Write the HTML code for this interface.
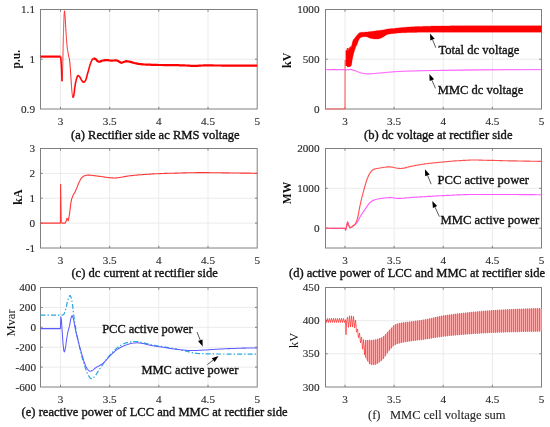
<!DOCTYPE html>
<html><head><meta charset="utf-8"><title>Simulation results</title>
<style>
html,body{margin:0;padding:0;background:#fff}
svg{display:block}
text{font-family:"Liberation Serif","Times New Roman",serif}
.t{font-size:11.2px;fill:#2e2e2e;stroke:#2e2e2e;stroke-width:0.15px}
.c{fill:#111}
.cap{font-size:12.5px;stroke:#111;stroke-width:0.35px}
</style></head><body>
<svg width="550" height="427" viewBox="0 0 550 427">
<rect width="550" height="427" fill="#fff"/>
<g><line x1="60.5" y1="9.5" x2="60.5" y2="109.0" stroke="#ebebeb"/><line x1="109.7" y1="9.5" x2="109.7" y2="109.0" stroke="#ebebeb"/><line x1="158.8" y1="9.5" x2="158.8" y2="109.0" stroke="#ebebeb"/><line x1="208.0" y1="9.5" x2="208.0" y2="109.0" stroke="#ebebeb"/><line x1="40.5" y1="59.2" x2="257.2" y2="59.2" stroke="#ebebeb"/><rect x="40.5" y="9.5" width="216.7" height="99.5" fill="none" stroke="#808080" stroke-width="1"/><line x1="60.5" y1="109.0" x2="60.5" y2="106.8" stroke="#808080"/><line x1="60.5" y1="9.5" x2="60.5" y2="11.7" stroke="#808080"/><line x1="109.7" y1="109.0" x2="109.7" y2="106.8" stroke="#808080"/><line x1="109.7" y1="9.5" x2="109.7" y2="11.7" stroke="#808080"/><line x1="158.8" y1="109.0" x2="158.8" y2="106.8" stroke="#808080"/><line x1="158.8" y1="9.5" x2="158.8" y2="11.7" stroke="#808080"/><line x1="208.0" y1="109.0" x2="208.0" y2="106.8" stroke="#808080"/><line x1="208.0" y1="9.5" x2="208.0" y2="11.7" stroke="#808080"/><line x1="40.5" y1="59.2" x2="42.7" y2="59.2" stroke="#808080"/><line x1="257.2" y1="59.2" x2="255.0" y2="59.2" stroke="#808080"/>
<polyline points="40.5,56.6 60.6,56.6" fill="none" stroke="#ff0000" stroke-width="2.2"/>
<polyline points="60.6,56.6 60.7,57.6 60.9,58.6 61.0,59.6 61.0,60.6 61.1,61.6 61.2,62.6 61.3,63.6 61.3,64.6 61.4,65.6 61.4,66.6 61.5,67.6 61.5,68.6 61.6,69.6 61.6,70.7 61.7,71.8 61.7,73.1 61.8,74.4 61.8,75.8 61.9,77.0 61.9,78.2 61.9,79.3 62.0,80.2 62.0,80.8 62.1,81.1 62.1,81.2" fill="none" stroke="#ff0808" stroke-width="1.6" stroke-linejoin="round"/>
<polyline points="62.1,81.2 62.2,80.8 62.2,80.2 62.3,79.4 62.3,78.3 62.4,77.2 62.4,75.9 62.5,74.5 62.5,73.2 62.5,71.9 62.6,70.8 62.6,69.7 62.6,68.7 62.7,67.7 62.7,66.7 62.7,65.7 62.8,64.7 62.8,63.7 62.8,62.7 62.8,61.7 62.8,60.7 62.9,59.7 62.9,58.7 62.9,57.7 62.9,56.7 63.0,55.6 63.0,54.6 63.0,53.6 63.0,52.6 63.0,51.6 63.1,50.6 63.1,49.6 63.1,48.6 63.1,47.6 63.1,46.6 63.2,45.6 63.2,44.6 63.2,43.6 63.2,42.6 63.3,41.6 63.3,40.6 63.3,39.6 63.3,38.6 63.4,37.6 63.4,36.6 63.4,35.6 63.4,34.6 63.5,33.6 63.5,32.6 63.5,31.5 63.6,30.5 63.6,29.5 63.6,28.5 63.6,27.5 63.7,26.5 63.7,25.5 63.7,24.5 63.8,23.5 63.8,22.5 63.8,21.5 63.9,20.5 63.9,19.5 64.0,18.5 64.0,17.5 64.1,16.2 64.1,14.9 64.2,13.6 64.3,12.4 64.4,11.5 64.4,10.9 64.5,10.8 64.6,11.3 64.7,12.2 64.8,13.4 64.9,14.7 65.0,16.0 65.1,17.1 65.2,18.1 65.3,19.1 65.3,20.1 65.4,21.1 65.4,22.1 65.5,23.1 65.5,24.1 65.6,25.1 65.7,26.1 65.7,27.1 65.8,28.1 65.8,29.1 65.9,30.1 65.9,31.1 66.0,32.2 66.1,33.2 66.1,34.2 66.2,35.2 66.3,36.2 66.4,37.2 66.4,38.2 66.5,39.2 66.6,40.2 66.6,41.2 66.7,42.2 66.8,43.2 66.9,44.2 67.0,45.2 67.1,46.2 67.2,47.2 67.3,48.2 67.5,49.2 67.6,50.2 67.8,51.1 68.0,52.1 68.1,53.1 68.3,54.1 68.5,55.1 68.7,56.1 68.9,57.1 69.2,58.0 69.4,59.0 69.5,60.0 69.7,61.0 69.8,62.0 69.9,63.0 70.0,64.0 70.0,65.0 70.1,66.0 70.2,67.0 70.3,68.0 70.3,69.0 70.4,70.0 70.5,71.0 70.5,72.0 70.6,73.0 70.7,74.0 70.8,75.0 70.8,76.0 70.9,77.0 70.9,78.0 71.0,79.0 71.1,80.0 71.1,81.0 71.2,82.0 71.3,83.0 71.3,84.1 71.4,85.1 71.5,86.1 71.6,87.1 71.7,88.1 71.7,89.1 71.8,90.1 71.9,91.1 72.0,92.1 72.1,93.1 72.2,94.1 72.3,95.1 72.5,96.1 72.7,97.4 73.0,98.0 73.3,97.5" fill="none" stroke="#ff1a1a" stroke-width="0.95" stroke-linejoin="round"/>
<polyline points="73.3,97.5 73.5,96.3 73.8,95.1 74.0,94.1 74.1,93.1 74.3,92.1 74.4,91.1 74.5,90.1 74.6,89.1 74.7,88.1 74.9,87.1 75.0,86.1 75.2,85.1 75.3,84.2 75.5,83.2 75.7,82.2 75.9,81.2 76.2,80.2 76.4,79.2 76.7,78.3 77.1,77.2 77.5,76.1 78.0,75.5 78.8,75.9 79.5,76.7 80.1,77.5 80.6,78.4 81.1,79.3 81.6,80.2 82.2,81.1 82.9,82.0 83.7,82.3 84.5,81.8 85.2,81.0 85.7,80.2 86.0,79.3 86.4,78.3 86.6,77.3 86.9,76.3 87.1,75.3 87.4,74.3 87.7,73.3 88.0,72.3 88.2,71.4 88.5,70.4 88.7,69.4 89.0,68.4 89.3,67.5 89.5,66.5 89.8,65.6 90.1,64.6 90.5,63.6 90.8,62.7 91.2,61.7 91.6,60.8 92.0,60.0 92.6,59.2 93.3,58.4" fill="none" stroke="#ff0808" stroke-width="1.6" stroke-linejoin="round"/>
<polyline points="93.3,58.4 94.3,58.6 95.3,58.9 96.1,59.4 96.7,60.2 97.4,61.0 98.3,61.5 99.3,61.8 100.2,61.6 101.2,61.1 102.1,60.8 103.1,60.5 104.1,60.3 105.1,60.1 106.1,60.0 107.1,60.1 108.1,60.2 109.1,60.4 110.1,60.5 111.1,60.6 112.1,60.6 113.1,60.5 114.2,60.5 115.2,60.4 116.2,60.4 117.1,60.5 118.0,60.9 118.9,61.5 119.8,62.0 120.7,62.6 121.6,62.8 122.5,62.5 123.5,62.1 124.5,61.7 125.4,61.3 126.4,61.2 127.4,61.3 128.4,61.5 129.4,61.7 130.4,61.9 131.3,62.1 132.3,62.4 133.3,62.7 134.3,63.0 135.2,63.2 136.2,63.4 137.2,63.6 138.2,63.8 139.2,64.0 140.2,64.1 141.2,64.2 142.2,64.3 143.2,64.4 144.2,64.5 145.2,64.5 146.2,64.6 147.2,64.6 148.2,64.7 149.3,64.7 150.3,64.7 151.3,64.8 152.3,64.8 153.3,64.8 154.3,64.9 155.3,64.9 156.3,64.9 157.3,64.9 158.3,65.0 159.4,65.0 160.4,65.0 161.4,65.0 162.4,65.0 163.4,65.1 164.4,65.1 165.4,65.1 166.4,65.1 167.4,65.1 168.4,65.1 169.4,65.1 170.5,65.1 171.5,65.2 172.5,65.2 173.5,65.2 174.5,65.2 175.5,65.2 176.5,65.2 177.5,65.2 178.5,65.2 179.5,65.3 180.5,65.3 181.6,65.3 182.6,65.3 183.6,65.4 184.6,65.4 185.6,65.5 186.6,65.5 187.6,65.6 188.6,65.7 189.6,65.7 190.6,65.8 191.6,65.8 192.6,65.9 193.6,65.9 194.7,65.9 195.7,65.9 196.7,65.9 197.7,65.8 198.7,65.7 199.7,65.7 200.7,65.6 201.7,65.5 202.7,65.5 203.7,65.4 204.7,65.4 205.7,65.4 206.7,65.4 207.8,65.4 208.8,65.4 209.8,65.4 210.8,65.4 211.8,65.4 212.8,65.4 213.8,65.5 214.8,65.5 215.8,65.5 216.8,65.5 217.8,65.5 218.9,65.5 219.9,65.5 220.9,65.5 221.9,65.6 222.9,65.6 223.9,65.6 224.9,65.6 225.9,65.6 226.9,65.6 227.9,65.6 228.9,65.6 230.0,65.6 231.0,65.6 232.0,65.6 233.0,65.6 234.0,65.6 235.0,65.6 236.0,65.6 237.0,65.6 238.0,65.6 239.0,65.6 240.0,65.6 241.1,65.6 242.1,65.6 243.1,65.6 244.1,65.6 245.1,65.6 246.1,65.6 247.1,65.6 248.1,65.6 249.1,65.6 250.1,65.6 251.1,65.6 252.2,65.6 253.2,65.6 254.2,65.6 255.2,65.6 256.2,65.6 257.2,65.6" fill="none" stroke="#ff0000" stroke-width="2.2" stroke-linejoin="round"/>

<text x="60.5" y="125.4" text-anchor="middle" class="t">3</text><text x="109.7" y="125.4" text-anchor="middle" class="t">3.5</text><text x="158.8" y="125.4" text-anchor="middle" class="t">4</text><text x="208.0" y="125.4" text-anchor="middle" class="t">4.5</text><text x="257.2" y="125.4" text-anchor="middle" class="t">5</text><text x="35" y="13.0" text-anchor="end" class="t">1.1</text><text x="35" y="62.8" text-anchor="end" class="t">1</text><text x="35" y="112.5" text-anchor="end" class="t">0.9</text>
<text transform="translate(20.3,59.2) rotate(-90)" text-anchor="middle" font-size="11.5" font-weight="bold" class="c">p.u.</text>
<text x="71" y="139.4" textLength="168.6" lengthAdjust="spacingAndGlyphs" xml:space="preserve" class="c cap">(a) Rectifier side ac RMS voltage</text>
</g>
<g><line x1="345.0" y1="9.5" x2="345.0" y2="109.0" stroke="#ebebeb"/><line x1="394.1" y1="9.5" x2="394.1" y2="109.0" stroke="#ebebeb"/><line x1="443.2" y1="9.5" x2="443.2" y2="109.0" stroke="#ebebeb"/><line x1="492.4" y1="9.5" x2="492.4" y2="109.0" stroke="#ebebeb"/><line x1="325.5" y1="59.2" x2="541.5" y2="59.2" stroke="#ebebeb"/><rect x="325.5" y="9.5" width="216.0" height="99.5" fill="none" stroke="#808080" stroke-width="1"/><line x1="345.0" y1="109.0" x2="345.0" y2="106.8" stroke="#808080"/><line x1="345.0" y1="9.5" x2="345.0" y2="11.7" stroke="#808080"/><line x1="394.1" y1="109.0" x2="394.1" y2="106.8" stroke="#808080"/><line x1="394.1" y1="9.5" x2="394.1" y2="11.7" stroke="#808080"/><line x1="443.2" y1="109.0" x2="443.2" y2="106.8" stroke="#808080"/><line x1="443.2" y1="9.5" x2="443.2" y2="11.7" stroke="#808080"/><line x1="492.4" y1="109.0" x2="492.4" y2="106.8" stroke="#808080"/><line x1="492.4" y1="9.5" x2="492.4" y2="11.7" stroke="#808080"/><line x1="325.5" y1="59.2" x2="327.7" y2="59.2" stroke="#808080"/><line x1="541.5" y1="59.2" x2="539.3" y2="59.2" stroke="#808080"/>
<polyline points="325.5,109.0 345.0,109.0 345.1,60.0" fill="none" stroke="#ff6a6a" stroke-width="1.2"/>
<polygon points="346.0,52.5 346.2,51.1 346.6,50.6 347.3,51.4 348.0,51.7 348.5,50.8 349.1,49.8 349.9,49.1 350.5,48.4 351.0,47.5 351.3,46.5 351.6,45.6 351.9,44.6 352.1,43.6 352.3,42.6 352.6,41.6 352.9,40.7 353.3,39.8 354.0,39.0 354.6,38.2 355.2,37.4 355.9,36.6 356.5,35.8 357.2,35.1 357.9,34.3 358.6,33.5 359.4,32.8 360.3,32.4 361.2,32.3 362.1,32.2 363.2,32.2 364.2,32.2 365.3,32.1 366.3,32.1 367.3,32.0 368.3,31.8 369.3,31.7 370.3,31.6 371.3,31.4 372.3,31.3 373.3,31.2 374.3,31.0 375.3,30.9 376.3,30.7 377.3,30.6 378.3,30.5 379.3,30.4 380.3,30.3 381.3,30.2 382.3,30.0 383.3,29.9 384.3,29.7 385.3,29.4 386.2,29.2 387.2,29.1 388.2,28.9 389.2,28.8 390.2,28.7 391.2,28.6 392.3,28.6 393.3,28.5 394.3,28.4 395.3,28.3 396.3,28.1 397.3,28.0 398.3,27.9 399.3,27.8 400.3,27.7 401.3,27.6 402.3,27.5 403.3,27.4 404.3,27.3 405.3,27.2 406.3,27.2 407.3,27.1 408.3,27.0 409.3,27.0 410.3,26.9 411.3,26.8 412.4,26.8 413.4,26.7 414.4,26.7 415.4,26.6 416.4,26.6 417.4,26.6 418.4,26.5 419.4,26.5 420.4,26.4 421.4,26.4 422.4,26.4 423.4,26.3 424.5,26.3 425.5,26.3 426.5,26.3 427.5,26.2 428.5,26.2 429.5,26.2 430.5,26.2 431.5,26.1 432.5,26.1 433.5,26.1 434.5,26.1 435.5,26.0 436.6,26.0 437.6,26.0 438.6,26.0 439.6,26.0 440.6,26.0 441.6,25.9 442.6,25.9 443.6,25.9 444.6,25.9 445.6,25.9 446.6,25.9 447.7,25.9 448.7,25.9 449.7,25.9 450.7,25.8 451.7,25.8 452.7,25.8 453.7,25.8 454.7,25.8 455.7,25.8 456.7,25.8 457.7,25.8 458.8,25.8 459.8,25.8 460.8,25.8 461.8,25.8 462.8,25.8 463.8,25.8 464.8,25.7 465.8,25.7 466.8,25.7 467.8,25.7 468.8,25.7 469.9,25.7 470.9,25.7 471.9,25.7 472.9,25.7 473.9,25.7 474.9,25.7 475.9,25.7 476.9,25.7 477.9,25.7 478.9,25.7 479.9,25.7 481.0,25.7 482.0,25.7 483.0,25.7 484.0,25.7 485.0,25.7 486.0,25.7 487.0,25.7 488.0,25.7 489.0,25.7 490.0,25.7 491.0,25.7 492.1,25.7 493.1,25.7 494.1,25.7 495.1,25.7 496.1,25.7 497.1,25.7 498.1,25.7 499.1,25.7 500.1,25.7 501.1,25.7 502.1,25.7 503.2,25.7 504.2,25.7 505.2,25.7 506.2,25.7 507.2,25.7 508.2,25.7 509.2,25.7 510.2,25.7 511.2,25.7 512.2,25.7 513.2,25.7 514.3,25.7 515.3,25.7 516.3,25.7 517.3,25.7 518.3,25.7 519.3,25.7 520.3,25.7 521.3,25.7 522.3,25.7 523.3,25.7 524.3,25.7 525.4,25.7 526.4,25.7 527.4,25.7 528.4,25.7 529.4,25.7 530.4,25.7 531.4,25.7 532.4,25.7 533.4,25.7 534.4,25.7 535.4,25.7 536.5,25.7 537.5,25.7 538.5,25.7 539.5,25.7 540.5,25.7 541.5,25.7 541.5,32.2 540.5,32.2 539.5,32.2 538.5,32.2 537.5,32.2 536.5,32.2 535.4,32.2 534.4,32.2 533.4,32.2 532.4,32.2 531.4,32.2 530.4,32.2 529.4,32.2 528.4,32.2 527.4,32.2 526.4,32.2 525.4,32.2 524.4,32.2 523.3,32.2 522.3,32.2 521.3,32.2 520.3,32.2 519.3,32.2 518.3,32.2 517.3,32.2 516.3,32.2 515.3,32.2 514.3,32.2 513.3,32.2 512.3,32.2 511.2,32.2 510.2,32.2 509.2,32.2 508.2,32.2 507.2,32.2 506.2,32.2 505.2,32.2 504.2,32.2 503.2,32.2 502.2,32.2 501.2,32.2 500.2,32.2 499.1,32.2 498.1,32.2 497.1,32.2 496.1,32.2 495.1,32.2 494.1,32.2 493.1,32.2 492.1,32.2 491.1,32.2 490.1,32.2 489.1,32.2 488.1,32.2 487.0,32.2 486.0,32.2 485.0,32.2 484.0,32.2 483.0,32.2 482.0,32.2 481.0,32.2 480.0,32.2 479.0,32.2 478.0,32.2 477.0,32.2 476.0,32.2 474.9,32.2 473.9,32.2 472.9,32.2 471.9,32.2 470.9,32.2 469.9,32.2 468.9,32.2 467.9,32.2 466.9,32.2 465.9,32.2 464.9,32.2 463.9,32.2 462.8,32.2 461.8,32.2 460.8,32.2 459.8,32.2 458.8,32.2 457.8,32.2 456.8,32.2 455.8,32.2 454.8,32.2 453.8,32.2 452.8,32.2 451.7,32.2 450.7,32.2 449.7,32.2 448.7,32.2 447.7,32.2 446.7,32.2 445.7,32.2 444.7,32.2 443.7,32.2 442.7,32.2 441.7,32.2 440.7,32.2 439.6,32.2 438.6,32.2 437.6,32.2 436.6,32.2 435.6,32.2 434.6,32.2 433.6,32.2 432.6,32.2 431.6,32.2 430.6,32.2 429.6,32.2 428.6,32.2 427.5,32.2 426.5,32.2 425.5,32.2 424.5,32.2 423.5,32.2 422.5,32.2 421.5,32.2 420.5,32.3 419.5,32.3 418.5,32.3 417.5,32.3 416.5,32.4 415.4,32.4 414.4,32.4 413.4,32.5 412.4,32.5 411.4,32.5 410.4,32.5 409.4,32.6 408.4,32.6 407.4,32.6 406.4,32.7 405.4,32.7 404.4,32.7 403.3,32.8 402.3,32.8 401.3,32.8 400.3,32.9 399.3,32.9 398.3,33.0 397.3,33.1 396.3,33.2 395.3,33.3 394.3,33.5 393.3,33.6 392.3,33.7 391.3,33.8 390.2,33.9 389.2,34.1 388.3,34.3 387.3,34.5 386.4,34.9 385.6,35.4 384.7,36.0 383.9,36.6 383.0,37.2 382.1,37.6 381.2,38.0 380.2,38.4 379.2,38.7 378.3,38.9 377.3,39.0 376.3,39.0 375.3,38.9 374.3,38.9 373.2,38.8 372.2,38.7 371.3,38.5 370.3,38.2 369.3,37.9 368.4,37.6 367.4,37.1 366.5,36.8 365.5,36.7 364.5,36.7 363.5,36.8 362.5,36.9 361.5,37.2 360.5,37.7 359.9,38.3 359.3,39.0 358.9,39.9 358.4,40.8 358.0,41.8 357.7,42.9 357.3,43.9 356.9,44.8 356.5,45.7 356.0,46.6 355.6,47.6 355.3,48.5 354.9,49.5 354.6,50.4 354.3,51.4 354.0,52.3 353.7,53.3 353.5,54.3 353.3,55.3 353.0,56.2 352.8,57.2 352.6,58.2 352.4,59.2 352.2,60.3 352.0,61.4 351.9,62.4 351.7,63.5 351.4,64.4 351.1,65.2 350.6,65.9 349.7,66.6 348.8,66.8 347.9,66.4 346.9,65.9 346.0,65.5" fill="#ff0000" stroke="#ff0000" stroke-width="0.3"/>
<polyline points="346.0,66.0 346.3,50.0 346.8,66.0 347.3,48.0 347.8,67.0 348.3,48.5 348.9,67.0 349.4,47.5 350.0,66.5 350.6,46.5 351.0,66.0" fill="none" stroke="#ff0000" stroke-width="0.7"/>
<polyline points="325.5,69.7 326.6,69.7 327.7,69.7 328.8,69.7 329.9,69.7 331.0,69.7 332.1,69.7 333.1,69.7 334.1,69.7 335.1,69.7 336.1,69.7 337.1,69.7 338.1,69.7 339.1,69.7 340.0,69.7 341.0,69.7 341.9,69.7 342.8,69.7 343.8,69.7 344.7,69.7 345.6,70.0 346.4,70.0 347.2,69.5 348.1,69.9 349.1,69.8 350.0,69.3 351.0,69.5 351.9,69.8 352.9,70.1 353.9,70.3 354.8,70.6 355.8,70.9 356.7,71.3 357.7,71.7 358.6,72.1 359.5,72.4 360.5,72.8 361.5,73.0 362.4,73.3 363.4,73.5 364.4,73.6 365.4,73.8 366.4,73.8 367.4,73.9 368.4,73.9 369.4,73.9 370.4,73.8 371.5,73.7 372.5,73.6 373.5,73.6 374.5,73.5 375.5,73.4 376.5,73.3 377.5,73.2 378.5,73.1 379.5,73.0 380.5,73.0 381.5,72.9 382.5,72.8 383.5,72.7 384.5,72.6 385.5,72.5 386.5,72.4 387.5,72.3 388.5,72.2 389.5,72.1 390.5,72.1 391.5,72.0 392.5,71.9 393.5,71.8 394.5,71.7 395.5,71.7 396.5,71.6 397.5,71.5 398.5,71.5 399.6,71.4 400.6,71.4 401.6,71.3 402.6,71.3 403.6,71.3 404.6,71.2 405.6,71.2 406.6,71.2 407.6,71.1 408.6,71.1 409.6,71.1 410.6,71.0 411.6,71.0 412.6,71.0 413.6,71.0 414.6,70.9 415.7,70.9 416.7,70.9 417.7,70.9 418.7,70.8 419.7,70.8 420.7,70.8 421.7,70.8 422.7,70.7 423.7,70.7 424.7,70.7 425.7,70.7 426.7,70.6 427.7,70.6 428.7,70.6 429.7,70.6 430.8,70.6 431.8,70.5 432.8,70.5 433.8,70.5 434.8,70.5 435.8,70.5 436.8,70.4 437.8,70.4 438.8,70.4 439.8,70.4 440.8,70.4 441.8,70.3 442.8,70.3 443.8,70.3 444.8,70.3 445.9,70.3 446.9,70.3 447.9,70.3 448.9,70.2 449.9,70.2 450.9,70.2 451.9,70.2 452.9,70.2 453.9,70.2 454.9,70.2 455.9,70.1 456.9,70.1 457.9,70.1 458.9,70.1 459.9,70.1 461.0,70.1 462.0,70.1 463.0,70.1 464.0,70.0 465.0,70.0 466.0,70.0 467.0,70.0 468.0,70.0 469.0,70.0 470.0,70.0 471.0,70.0 472.0,70.0 473.0,70.0 474.0,69.9 475.0,69.9 476.1,69.9 477.1,69.9 478.1,69.9 479.1,69.9 480.1,69.9 481.1,69.9 482.1,69.9 483.1,69.9 484.1,69.9 485.1,69.9 486.1,69.9 487.1,69.8 488.1,69.8 489.1,69.8 490.2,69.8 491.2,69.8 492.2,69.8 493.2,69.8 494.2,69.8 495.2,69.8 496.2,69.8 497.2,69.8 498.2,69.8 499.2,69.8 500.2,69.8 501.2,69.8 502.2,69.7 503.2,69.7 504.2,69.7 505.3,69.7 506.3,69.7 507.3,69.7 508.3,69.7 509.3,69.7 510.3,69.7 511.3,69.7 512.3,69.7 513.3,69.7 514.3,69.7 515.3,69.7 516.3,69.7 517.3,69.7 518.3,69.7 519.3,69.7 520.4,69.7 521.4,69.7 522.4,69.6 523.4,69.6 524.4,69.6 525.4,69.6 526.4,69.6 527.4,69.6 528.4,69.6 529.4,69.6 530.4,69.6 531.4,69.6 532.4,69.6 533.4,69.6 534.5,69.6 535.5,69.6 536.5,69.6 537.5,69.6 538.5,69.6 539.5,69.6 540.5,69.6 541.5,69.6" fill="none" stroke="#ff38ff" stroke-width="1.0"/>

<text x="345.0" y="125.4" text-anchor="middle" class="t">3</text><text x="394.1" y="125.4" text-anchor="middle" class="t">3.5</text><text x="443.2" y="125.4" text-anchor="middle" class="t">4</text><text x="492.4" y="125.4" text-anchor="middle" class="t">4.5</text><text x="541.5" y="125.4" text-anchor="middle" class="t">5</text><text x="319.5" y="13.0" text-anchor="end" class="t">1000</text><text x="319.5" y="62.8" text-anchor="end" class="t">500</text><text x="319.5" y="112.5" text-anchor="end" class="t">0</text>
<text transform="translate(291.3,60.3) rotate(-90)" text-anchor="middle" font-size="12" font-weight="bold" class="c">kV</text>
<text x="364" y="139.4" textLength="148.5" lengthAdjust="spacingAndGlyphs" xml:space="preserve" class="c cap">(b) dc voltage at rectifier side</text>
<text x="438.4" y="54.3" textLength="81" lengthAdjust="spacingAndGlyphs" class="c cap">Total dc voltage</text>
<line x1="435.8" y1="47.7" x2="432.5" y2="39.6" stroke="#222" stroke-width="0.75"/><polygon points="430.0,33.5 434.7,38.7 430.3,40.5" fill="#000"/>
<text x="437.8" y="94.2" textLength="85.5" lengthAdjust="spacingAndGlyphs" class="c cap">MMC dc voltage</text>
<line x1="435.5" y1="88.4" x2="431.9" y2="80.2" stroke="#222" stroke-width="0.75"/><polygon points="429.3,74.1 434.1,79.2 429.7,81.1" fill="#000"/>
</g>
<g><line x1="60.5" y1="148.5" x2="60.5" y2="248.0" stroke="#ebebeb"/><line x1="109.7" y1="148.5" x2="109.7" y2="248.0" stroke="#ebebeb"/><line x1="158.8" y1="148.5" x2="158.8" y2="248.0" stroke="#ebebeb"/><line x1="208.0" y1="148.5" x2="208.0" y2="248.0" stroke="#ebebeb"/><line x1="40.5" y1="173.4" x2="257.2" y2="173.4" stroke="#ebebeb"/><line x1="40.5" y1="198.2" x2="257.2" y2="198.2" stroke="#ebebeb"/><line x1="40.5" y1="223.1" x2="257.2" y2="223.1" stroke="#ebebeb"/><rect x="40.5" y="148.5" width="216.7" height="99.5" fill="none" stroke="#808080" stroke-width="1"/><line x1="60.5" y1="248.0" x2="60.5" y2="245.8" stroke="#808080"/><line x1="60.5" y1="148.5" x2="60.5" y2="150.7" stroke="#808080"/><line x1="109.7" y1="248.0" x2="109.7" y2="245.8" stroke="#808080"/><line x1="109.7" y1="148.5" x2="109.7" y2="150.7" stroke="#808080"/><line x1="158.8" y1="248.0" x2="158.8" y2="245.8" stroke="#808080"/><line x1="158.8" y1="148.5" x2="158.8" y2="150.7" stroke="#808080"/><line x1="208.0" y1="248.0" x2="208.0" y2="245.8" stroke="#808080"/><line x1="208.0" y1="148.5" x2="208.0" y2="150.7" stroke="#808080"/><line x1="40.5" y1="173.4" x2="42.7" y2="173.4" stroke="#808080"/><line x1="257.2" y1="173.4" x2="255.0" y2="173.4" stroke="#808080"/><line x1="40.5" y1="198.2" x2="42.7" y2="198.2" stroke="#808080"/><line x1="257.2" y1="198.2" x2="255.0" y2="198.2" stroke="#808080"/><line x1="40.5" y1="223.1" x2="42.7" y2="223.1" stroke="#808080"/><line x1="257.2" y1="223.1" x2="255.0" y2="223.1" stroke="#808080"/>
<polyline points="40.5,223.1 60.4,223.1 60.6,184.4 61.2,222.8 62.0,223.1 65.0,223.1 66.0,221.6 67.0,218.2 67.7,219.5 68.3,220.7 68.3,220.7 68.5,219.7 68.7,218.7 68.9,217.7 69.0,216.7 69.2,215.8 69.4,214.8 69.5,213.8 69.7,212.8 69.8,211.8 69.9,210.8 70.0,209.8 70.2,208.8 70.3,207.8 70.4,206.8 70.5,205.8 70.6,204.8 70.8,203.8 70.9,202.8 71.1,201.8 71.3,200.8 71.5,199.8 71.7,198.9 72.1,197.9 72.4,197.0 72.8,196.0 73.2,195.1 73.7,194.2 74.2,193.4 74.8,192.5 75.2,191.6 75.6,190.7 76.0,189.8 76.4,188.9 76.8,187.9 77.2,187.0 77.5,186.1 77.9,185.1 78.3,184.2 78.7,183.3 79.1,182.3 79.5,181.4 80.0,180.4 80.4,179.5 80.9,178.7 81.5,178.0 82.2,177.3 83.0,176.6 83.9,176.1 84.8,175.7 85.8,175.3 86.8,175.2 87.8,175.1 88.8,175.1 89.8,175.1 90.8,175.2 91.8,175.3 92.8,175.5 93.8,175.6 94.8,175.8 95.8,175.9 96.8,176.0 97.8,176.1 98.8,176.3 99.8,176.4 100.7,176.5 101.7,176.7 102.7,176.8 103.7,176.9 104.7,177.1 105.7,177.2 106.7,177.3 107.7,177.5 108.7,177.6 109.7,177.7 110.7,177.8 111.7,177.9 112.7,177.9 113.7,178.0 114.7,178.0 115.7,178.0 116.7,177.9 117.7,177.8 118.7,177.7 119.7,177.5 120.7,177.3 121.7,177.2 122.7,177.0 123.7,176.8 124.7,176.6 125.7,176.4 126.7,176.3 127.6,176.1 128.6,176.0 129.6,175.8 130.6,175.7 131.6,175.6 132.6,175.5 133.6,175.4 134.6,175.3 135.6,175.2 136.6,175.1 137.6,175.0 138.6,174.9 139.6,174.8 140.6,174.7 141.6,174.7 142.6,174.6 143.7,174.5 144.7,174.5 145.7,174.4 146.7,174.3 147.7,174.3 148.7,174.2 149.7,174.1 150.7,174.1 151.7,174.0 152.7,173.9 153.7,173.9 154.7,173.8 155.7,173.8 156.7,173.7 157.7,173.7 158.7,173.7 159.7,173.6 160.7,173.6 161.7,173.5 162.7,173.5 163.7,173.5 164.7,173.4 165.7,173.4 166.7,173.4 167.7,173.3 168.8,173.3 169.8,173.3 170.8,173.2 171.8,173.2 172.8,173.2 173.8,173.2 174.8,173.1 175.8,173.1 176.8,173.1 177.8,173.1 178.8,173.0 179.8,173.0 180.8,173.0 181.8,173.0 182.8,172.9 183.8,172.9 184.8,172.9 185.8,172.9 186.8,172.8 187.8,172.8 188.9,172.8 189.9,172.8 190.9,172.7 191.9,172.7 192.9,172.7 193.9,172.7 194.9,172.7 195.9,172.6 196.9,172.6 197.9,172.6 198.9,172.6 199.9,172.6 200.9,172.6 201.9,172.6 202.9,172.6 203.9,172.6 204.9,172.6 205.9,172.6 206.9,172.6 207.9,172.6 209.0,172.6 210.0,172.7 211.0,172.7 212.0,172.7 213.0,172.7 214.0,172.7 215.0,172.7 216.0,172.8 217.0,172.8 218.0,172.8 219.0,172.8 220.0,172.8 221.0,172.8 222.0,172.9 223.0,172.9 224.0,172.9 225.0,172.9 226.0,172.9 227.0,172.9 228.1,172.9 229.1,172.9 230.1,173.0 231.1,173.0 232.1,173.0 233.1,173.0 234.1,173.0 235.1,173.0 236.1,173.0 237.1,173.0 238.1,173.0 239.1,173.0 240.1,173.1 241.1,173.1 242.1,173.1 243.1,173.1 244.1,173.1 245.1,173.1 246.1,173.1 247.1,173.1 248.2,173.1 249.2,173.1 250.2,173.1 251.2,173.2 252.2,173.2 253.2,173.2 254.2,173.2 255.2,173.2 256.2,173.2 257.2,173.2" fill="none" stroke="#ff3636" stroke-width="1.1" stroke-linejoin="round"/>

<text x="60.5" y="264.4" text-anchor="middle" class="t">3</text><text x="109.7" y="264.4" text-anchor="middle" class="t">3.5</text><text x="158.8" y="264.4" text-anchor="middle" class="t">4</text><text x="208.0" y="264.4" text-anchor="middle" class="t">4.5</text><text x="257.2" y="264.4" text-anchor="middle" class="t">5</text><text x="35" y="152.0" text-anchor="end" class="t">3</text><text x="35" y="176.9" text-anchor="end" class="t">2</text><text x="35" y="201.8" text-anchor="end" class="t">1</text><text x="35" y="226.6" text-anchor="end" class="t">0</text><text x="35" y="251.5" text-anchor="end" class="t">-1</text>
<text transform="translate(21.5,197) rotate(-90)" text-anchor="middle" font-size="12" font-weight="bold" class="c">kA</text>
<text x="71.4" y="277" textLength="146.5" lengthAdjust="spacingAndGlyphs" xml:space="preserve" class="c cap">(c) dc current at rectifier side</text>
</g>
<g><line x1="345.0" y1="148.5" x2="345.0" y2="248.0" stroke="#ebebeb"/><line x1="394.1" y1="148.5" x2="394.1" y2="248.0" stroke="#ebebeb"/><line x1="443.2" y1="148.5" x2="443.2" y2="248.0" stroke="#ebebeb"/><line x1="492.4" y1="148.5" x2="492.4" y2="248.0" stroke="#ebebeb"/><line x1="325.5" y1="188.3" x2="541.5" y2="188.3" stroke="#ebebeb"/><line x1="325.5" y1="228.2" x2="541.5" y2="228.2" stroke="#ebebeb"/><rect x="325.5" y="148.5" width="216.0" height="99.5" fill="none" stroke="#808080" stroke-width="1"/><line x1="345.0" y1="248.0" x2="345.0" y2="245.8" stroke="#808080"/><line x1="345.0" y1="148.5" x2="345.0" y2="150.7" stroke="#808080"/><line x1="394.1" y1="248.0" x2="394.1" y2="245.8" stroke="#808080"/><line x1="394.1" y1="148.5" x2="394.1" y2="150.7" stroke="#808080"/><line x1="443.2" y1="248.0" x2="443.2" y2="245.8" stroke="#808080"/><line x1="443.2" y1="148.5" x2="443.2" y2="150.7" stroke="#808080"/><line x1="492.4" y1="248.0" x2="492.4" y2="245.8" stroke="#808080"/><line x1="492.4" y1="148.5" x2="492.4" y2="150.7" stroke="#808080"/><line x1="325.5" y1="188.3" x2="327.7" y2="188.3" stroke="#808080"/><line x1="541.5" y1="188.3" x2="539.3" y2="188.3" stroke="#808080"/><line x1="325.5" y1="228.2" x2="327.7" y2="228.2" stroke="#808080"/><line x1="541.5" y1="228.2" x2="539.3" y2="228.2" stroke="#808080"/>
<polyline points="325.5,228.2 345.0,228.2 345.6,230.0 346.4,227.2 347.6,222.0 348.6,225.0 350.0,227.8 352.0,226.7 355.0,224.5 355.0,224.5 355.8,223.8 356.5,223.1 357.1,222.4 357.7,221.5 358.1,220.7 358.6,219.7 359.0,218.8 359.5,217.9 360.0,217.0 360.5,216.2 361.0,215.3 361.6,214.5 362.1,213.6 362.7,212.8 363.2,211.9 363.8,211.1 364.4,210.3 365.0,209.5 365.5,208.6 366.1,207.8 366.6,206.9 367.2,206.1 367.7,205.3 368.4,204.5 369.0,203.7 369.7,202.9 370.4,202.2 371.2,201.6 372.0,201.0 372.9,200.6 373.8,200.2 374.8,199.8 375.7,199.5 376.7,199.3 377.7,199.0 378.7,198.8 379.7,198.7 380.6,198.5 381.6,198.4 382.6,198.2 383.6,198.1 384.6,198.0 385.7,197.9 386.7,197.8 387.7,197.7 388.7,197.6 389.7,197.6 390.7,197.6 391.7,197.7 392.7,197.8 393.7,197.9 394.7,198.1 395.7,198.2 396.7,198.3 397.7,198.3 398.7,198.4 399.7,198.4 400.7,198.4 401.7,198.4 402.7,198.3 403.7,198.2 404.7,198.1 405.7,197.9 406.7,197.8 407.7,197.7 408.7,197.7 409.7,197.6 410.7,197.5 411.7,197.4 412.7,197.3 413.7,197.3 414.7,197.2 415.7,197.1 416.7,197.1 417.8,197.0 418.8,197.0 419.8,196.9 420.8,196.8 421.8,196.8 422.8,196.7 423.8,196.7 424.8,196.6 425.8,196.6 426.8,196.5 427.8,196.4 428.8,196.4 429.8,196.3 430.8,196.3 431.8,196.2 432.8,196.1 433.8,196.1 434.8,196.0 435.8,196.0 436.8,195.9 437.9,195.9 438.9,195.8 439.9,195.7 440.9,195.7 441.9,195.6 442.9,195.6 443.9,195.6 444.9,195.5 445.9,195.5 446.9,195.4 447.9,195.4 448.9,195.3 449.9,195.3 450.9,195.2 451.9,195.2 452.9,195.1 453.9,195.1 454.9,195.0 456.0,195.0 457.0,194.9 458.0,194.9 459.0,194.8 460.0,194.8 461.0,194.8 462.0,194.7 463.0,194.7 464.0,194.6 465.0,194.6 466.0,194.6 467.0,194.6 468.0,194.5 469.0,194.5 470.0,194.5 471.0,194.5 472.0,194.5 473.1,194.5 474.1,194.5 475.1,194.5 476.1,194.5 477.1,194.5 478.1,194.5 479.1,194.5 480.1,194.5 481.1,194.5 482.1,194.5 483.1,194.5 484.1,194.5 485.1,194.5 486.1,194.5 487.1,194.5 488.2,194.5 489.2,194.5 490.2,194.5 491.2,194.5 492.2,194.5 493.2,194.5 494.2,194.5 495.2,194.5 496.2,194.5 497.2,194.5 498.2,194.5 499.2,194.5 500.2,194.5 501.2,194.5 502.2,194.5 503.3,194.5 504.3,194.5 505.3,194.5 506.3,194.5 507.3,194.5 508.3,194.5 509.3,194.5 510.3,194.5 511.3,194.5 512.3,194.5 513.3,194.5 514.3,194.5 515.3,194.5 516.3,194.5 517.3,194.5 518.3,194.5 519.4,194.6 520.4,194.6 521.4,194.6 522.4,194.6 523.4,194.6 524.4,194.6 525.4,194.6 526.4,194.6 527.4,194.6 528.4,194.6 529.4,194.6 530.4,194.6 531.4,194.6 532.4,194.6 533.4,194.6 534.5,194.6 535.5,194.7 536.5,194.7 537.5,194.7 538.5,194.7 539.5,194.7 540.5,194.7 541.5,194.7" fill="none" stroke="#ff5cff" stroke-width="1.15" stroke-linejoin="round"/>
<polyline points="325.5,228.2 345.0,228.2 345.6,230.0 346.4,227.2 347.6,222.0 348.6,225.0 350.0,227.8 352.0,226.7 355.0,224.5 355.0,224.5 355.5,223.6 355.9,222.7 356.3,221.8 356.7,220.8 357.0,219.9 357.3,218.9 357.6,218.0 357.8,217.0 358.0,216.0 358.2,215.0 358.4,214.0 358.6,213.0 358.8,212.0 359.0,211.0 359.1,210.0 359.3,209.1 359.5,208.1 359.7,207.1 359.9,206.1 360.1,205.1 360.4,204.1 360.6,203.1 360.8,202.1 361.0,201.2 361.2,200.2 361.5,199.2 361.7,198.2 361.9,197.2 362.2,196.2 362.4,195.3 362.7,194.3 362.9,193.3 363.2,192.3 363.5,191.4 363.7,190.4 364.0,189.4 364.3,188.5 364.5,187.5 364.8,186.5 365.1,185.6 365.4,184.6 365.7,183.6 366.0,182.6 366.2,181.7 366.5,180.7 366.9,179.7 367.2,178.8 367.6,177.9 368.0,176.9 368.4,176.0 368.8,175.1 369.3,174.2 369.9,173.4 370.4,172.5 371.0,171.7 371.7,170.9 372.4,170.3 373.2,169.6 374.1,169.2 375.1,168.9 376.1,168.7 377.1,168.5 378.1,168.3 379.0,168.2 380.0,168.0 381.0,167.8 382.0,167.7 383.0,167.5 384.0,167.3 385.0,167.2 386.0,167.1 387.0,166.9 388.0,166.8 389.0,166.8 390.0,166.9 391.0,167.0 392.0,167.1 393.0,167.3 394.0,167.5 395.0,167.8 396.0,168.0 397.0,168.2 398.0,168.3 399.0,168.4 400.0,168.5 401.0,168.5 402.0,168.4 403.0,168.3 404.0,168.1 405.0,167.9 405.9,167.6 406.9,167.3 407.9,167.1 408.9,166.8 409.9,166.6 410.8,166.4 411.8,166.2 412.8,166.0 413.8,165.8 414.8,165.6 415.8,165.4 416.8,165.2 417.8,165.0 418.8,164.9 419.8,164.7 420.7,164.5 421.7,164.4 422.7,164.2 423.7,164.1 424.7,163.9 425.7,163.8 426.7,163.7 427.7,163.6 428.7,163.4 429.7,163.3 430.7,163.2 431.7,163.1 432.7,163.0 433.7,162.9 434.7,162.8 435.7,162.7 436.8,162.6 437.8,162.5 438.8,162.4 439.8,162.3 440.8,162.2 441.8,162.1 442.8,162.0 443.8,161.9 444.8,161.8 445.8,161.7 446.8,161.6 447.8,161.5 448.8,161.5 449.8,161.4 450.8,161.3 451.8,161.2 452.8,161.1 453.8,161.0 454.8,160.9 455.8,160.9 456.8,160.8 457.9,160.7 458.9,160.7 459.9,160.6 460.9,160.6 461.9,160.5 462.9,160.4 463.9,160.4 464.9,160.3 465.9,160.3 466.9,160.2 467.9,160.2 468.9,160.1 469.9,160.1 470.9,160.0 471.9,160.0 473.0,160.0 474.0,160.0 475.0,160.0 476.0,160.0 477.0,160.0 478.0,160.0 479.0,160.1 480.0,160.1 481.0,160.1 482.0,160.1 483.0,160.2 484.0,160.2 485.1,160.2 486.1,160.2 487.1,160.3 488.1,160.3 489.1,160.3 490.1,160.4 491.1,160.4 492.1,160.4 493.1,160.4 494.1,160.4 495.1,160.5 496.1,160.5 497.1,160.5 498.2,160.5 499.2,160.6 500.2,160.6 501.2,160.6 502.2,160.6 503.2,160.7 504.2,160.7 505.2,160.7 506.2,160.7 507.2,160.7 508.2,160.8 509.2,160.8 510.2,160.8 511.3,160.8 512.3,160.9 513.3,160.9 514.3,160.9 515.3,160.9 516.3,160.9 517.3,161.0 518.3,161.0 519.3,161.0 520.3,161.0 521.3,161.0 522.3,161.0 523.4,161.1 524.4,161.1 525.4,161.1 526.4,161.1 527.4,161.1 528.4,161.1 529.4,161.1 530.4,161.2 531.4,161.2 532.4,161.2 533.4,161.2 534.4,161.2 535.5,161.2 536.5,161.2 537.5,161.3 538.5,161.3 539.5,161.3 540.5,161.3 541.5,161.3" fill="none" stroke="#ff5050" stroke-width="1.15" stroke-linejoin="round"/>

<text x="345.0" y="264.4" text-anchor="middle" class="t">3</text><text x="394.1" y="264.4" text-anchor="middle" class="t">3.5</text><text x="443.2" y="264.4" text-anchor="middle" class="t">4</text><text x="492.4" y="264.4" text-anchor="middle" class="t">4.5</text><text x="541.5" y="264.4" text-anchor="middle" class="t">5</text><text x="319.5" y="152.0" text-anchor="end" class="t">2000</text><text x="319.5" y="191.8" text-anchor="end" class="t">1000</text><text x="319.5" y="231.7" text-anchor="end" class="t">0</text>
<text transform="translate(291,193) rotate(-90)" text-anchor="middle" font-size="11.5" font-weight="bold" class="c">MW</text>
<text x="289" y="276.6" textLength="256" lengthAdjust="spacingAndGlyphs" xml:space="preserve" class="c cap">(d) active power of LCC and MMC at rectifier side</text>
<text x="437.5" y="183.7" textLength="91.5" lengthAdjust="spacingAndGlyphs" class="c cap">PCC active power</text>
<line x1="431.2" y1="184.2" x2="427.5" y2="175.3" stroke="#222" stroke-width="0.75"/><polygon points="424.9,169.2 429.7,174.4 425.2,176.2" fill="#000"/>
<text x="440.5" y="224.4" textLength="98.8" lengthAdjust="spacingAndGlyphs" class="c cap">MMC active power</text>
<line x1="439.4" y1="216.6" x2="435.0" y2="207.1" stroke="#222" stroke-width="0.75"/><polygon points="432.3,201.1 437.2,206.1 432.9,208.1" fill="#000"/>
</g>
<g><line x1="60.5" y1="287.5" x2="60.5" y2="387.0" stroke="#ebebeb"/><line x1="109.7" y1="287.5" x2="109.7" y2="387.0" stroke="#ebebeb"/><line x1="158.8" y1="287.5" x2="158.8" y2="387.0" stroke="#ebebeb"/><line x1="208.0" y1="287.5" x2="208.0" y2="387.0" stroke="#ebebeb"/><line x1="40.5" y1="307.4" x2="257.2" y2="307.4" stroke="#ebebeb"/><line x1="40.5" y1="327.3" x2="257.2" y2="327.3" stroke="#ebebeb"/><line x1="40.5" y1="347.2" x2="257.2" y2="347.2" stroke="#ebebeb"/><line x1="40.5" y1="367.1" x2="257.2" y2="367.1" stroke="#ebebeb"/><rect x="40.5" y="287.5" width="216.7" height="99.5" fill="none" stroke="#808080" stroke-width="1"/><line x1="60.5" y1="387.0" x2="60.5" y2="384.8" stroke="#808080"/><line x1="60.5" y1="287.5" x2="60.5" y2="289.7" stroke="#808080"/><line x1="109.7" y1="387.0" x2="109.7" y2="384.8" stroke="#808080"/><line x1="109.7" y1="287.5" x2="109.7" y2="289.7" stroke="#808080"/><line x1="158.8" y1="387.0" x2="158.8" y2="384.8" stroke="#808080"/><line x1="158.8" y1="287.5" x2="158.8" y2="289.7" stroke="#808080"/><line x1="208.0" y1="387.0" x2="208.0" y2="384.8" stroke="#808080"/><line x1="208.0" y1="287.5" x2="208.0" y2="289.7" stroke="#808080"/><line x1="40.5" y1="307.4" x2="42.7" y2="307.4" stroke="#808080"/><line x1="257.2" y1="307.4" x2="255.0" y2="307.4" stroke="#808080"/><line x1="40.5" y1="327.3" x2="42.7" y2="327.3" stroke="#808080"/><line x1="257.2" y1="327.3" x2="255.0" y2="327.3" stroke="#808080"/><line x1="40.5" y1="347.2" x2="42.7" y2="347.2" stroke="#808080"/><line x1="257.2" y1="347.2" x2="255.0" y2="347.2" stroke="#808080"/><line x1="40.5" y1="367.1" x2="42.7" y2="367.1" stroke="#808080"/><line x1="257.2" y1="367.1" x2="255.0" y2="367.1" stroke="#808080"/>
<polyline points="40.5,315.1 41.7,315.1 42.8,315.1 44.0,315.1 45.1,315.1 46.2,315.1 47.3,315.1 48.3,315.1 49.4,315.1 50.4,315.1 51.4,315.1 52.4,315.1 53.4,315.1 54.4,315.1 55.3,315.1 56.3,315.1 57.2,315.1 58.1,315.1 59.0,315.1 59.9,315.1 60.8,315.1 61.7,315.1 62.6,315.1 63.5,314.6 64.1,313.8 64.5,313.0 64.9,312.1 65.2,311.1 65.5,310.1 65.7,309.1 66.0,308.1 66.2,307.1 66.5,306.1 66.7,305.1 66.9,304.1 67.1,303.1 67.3,302.1 67.5,301.2 67.8,300.2 68.1,299.3 68.5,298.1 69.0,297.0 69.5,296.0 70.0,295.5 70.4,295.7 70.8,296.7 71.2,297.9 71.5,299.0 71.7,300.0 71.9,300.9 72.1,301.9 72.2,302.9 72.4,303.9 72.5,304.9 72.7,305.9 72.8,306.9 72.9,307.9 73.0,308.9 73.1,309.9 73.2,310.9 73.3,311.9 73.4,312.9 73.6,313.9 73.7,314.9 73.8,315.9 74.0,316.9 74.1,317.9 74.3,318.9 74.4,319.9 74.6,320.9 74.7,321.9 74.9,322.9 75.0,323.9 75.2,324.8 75.3,325.8 75.5,326.8 75.6,327.8 75.8,328.8 76.0,329.8 76.1,330.8 76.3,331.8 76.5,332.8 76.7,333.7 76.9,334.7 77.1,335.7 77.3,336.7 77.5,337.7 77.7,338.7 77.9,339.7 78.1,340.6 78.3,341.6 78.5,342.6 78.7,343.6 79.0,344.6 79.2,345.5 79.4,346.5 79.6,347.5 79.9,348.5 80.1,349.5 80.3,350.4 80.6,351.4 80.8,352.4 81.1,353.4 81.3,354.3 81.6,355.3 81.8,356.3 82.1,357.3 82.3,358.2 82.6,359.2 82.9,360.2 83.2,361.1 83.4,362.1 83.7,363.1 84.0,364.0 84.3,365.0 84.6,365.9 85.0,366.9 85.3,367.8 85.6,368.8 85.9,369.7 86.3,370.7 86.6,371.7 87.0,372.6 87.4,373.5 87.9,374.4 88.4,375.3 88.9,376.1 89.5,377.1 90.2,378.0 90.9,378.6 91.7,378.7 92.6,378.3 93.5,377.6 94.3,376.9 95.0,376.3 95.6,375.5 96.1,374.6 96.6,373.7 97.1,372.8 97.7,371.9 98.2,371.1 98.8,370.3 99.3,369.4 99.9,368.6 100.5,367.8 101.0,366.9 101.6,366.1 102.2,365.3 102.7,364.4 103.3,363.6 103.9,362.8 104.5,362.0 105.1,361.2 105.7,360.4 106.3,359.6 106.9,358.8 107.5,358.0 108.1,357.2 108.8,356.4 109.4,355.6 110.1,354.9 110.7,354.1 111.4,353.4 112.1,352.6 112.8,351.9 113.5,351.2 114.2,350.5 114.9,349.8 115.7,349.1 116.5,348.4 117.2,347.8 118.0,347.2 118.8,346.6 119.7,346.0 120.5,345.5 121.4,345.0 122.3,344.5 123.2,344.1 124.1,343.6 125.0,343.2 126.0,342.9 126.9,342.6 127.9,342.4 128.9,342.2 129.8,342.0 130.8,341.8 131.9,341.7 132.9,341.6 133.9,341.5 134.9,341.5 135.9,341.5 136.9,341.6 137.9,341.7 138.9,341.9 139.9,342.1 140.8,342.3 141.8,342.5 142.8,342.7 143.8,342.9 144.8,343.1 145.7,343.4 146.7,343.7 147.7,343.9 148.7,344.2 149.6,344.4 150.6,344.6 151.6,344.8 152.6,345.0 153.6,345.2 154.6,345.3 155.5,345.5 156.5,345.7 157.5,345.8 158.5,346.0 159.5,346.1 160.5,346.3 161.5,346.4 162.5,346.6 163.5,346.7 164.5,346.9 165.5,347.1 166.5,347.3 167.4,347.4 168.4,347.6 169.4,347.8 170.4,348.0 171.4,348.1 172.4,348.3 173.4,348.5 174.4,348.7 175.3,348.9 176.3,349.1 177.3,349.3 178.3,349.5 179.3,349.7 180.3,349.9 181.3,350.1 182.2,350.3 183.2,350.5 184.2,350.7 185.2,350.9 186.2,351.1 187.1,351.4 188.1,351.6 189.1,351.8 190.1,352.1 191.0,352.4 192.0,352.6 193.0,352.9 194.0,353.0 195.0,353.2 196.0,353.3 197.0,353.4 198.0,353.5 199.0,353.6 200.0,353.6 201.0,353.7 202.0,353.7 203.0,353.7 204.0,353.8 205.0,353.8 206.0,353.8 207.0,353.8 208.0,353.9 209.0,353.9 210.0,353.9 211.0,353.9 212.0,353.9 213.0,353.9 214.0,353.9 215.0,354.0 216.0,354.0 217.0,354.0 218.0,354.0 219.0,354.0 220.0,354.0 221.0,354.0 222.1,354.0 223.1,354.0 224.1,354.0 225.1,354.0 226.1,354.1 227.1,354.1 228.1,354.1 229.1,354.1 230.1,354.1 231.1,354.1 232.1,354.1 233.1,354.1 234.1,354.1 235.1,354.1 236.1,354.1 237.1,354.1 238.1,354.1 239.1,354.1 240.1,354.1 241.1,354.2 242.1,354.2 243.1,354.2 244.1,354.2 245.1,354.2 246.2,354.2 247.2,354.2 248.2,354.2 249.2,354.2 250.2,354.2 251.2,354.2 252.2,354.2 253.2,354.2 254.2,354.2 255.2,354.2 256.2,354.2 257.2,354.2" fill="none" stroke="#27a6e0" stroke-width="1.2" stroke-dasharray="5 2 1.4 2.1" stroke-linejoin="round"/>
<polyline points="40.5,328.6 60.4,328.6 60.8,316.8 61.4,320.0 61.4,320.0 61.5,321.0 61.5,322.0 61.6,323.0 61.7,324.0 61.7,325.0 61.8,326.0 61.9,327.0 61.9,328.0 62.0,329.0 62.1,330.0 62.1,331.0 62.2,332.0 62.3,333.0 62.4,334.0 62.4,335.0 62.5,336.0 62.6,337.1 62.6,338.1 62.7,339.1 62.8,340.1 62.8,341.1 62.9,342.1 63.0,343.1 63.1,344.1 63.2,345.1 63.3,346.1 63.4,347.1 63.5,348.1 63.6,349.1 63.8,350.3 64.1,351.5 64.3,351.9 64.6,351.3 65.0,350.1 65.2,348.9 65.4,347.9 65.6,347.0 65.7,346.0 65.9,345.0 66.0,344.0 66.1,343.0 66.2,342.0 66.4,341.0 66.5,340.0 66.6,339.0 66.8,338.0 67.0,337.0 67.2,336.0 67.3,335.0 67.5,334.0 67.7,333.0 67.9,332.0 68.1,331.1 68.4,330.1 68.6,329.1 68.9,328.1 69.2,327.2 69.5,326.2 69.7,325.2 69.9,324.2 70.0,323.2 70.2,322.2 70.3,321.2 70.5,320.3 70.7,319.3 71.0,318.2 71.4,317.0 71.8,316.0 72.1,315.6 72.5,316.1 72.9,317.2 73.2,318.4 73.5,319.4 73.7,320.4 73.9,321.4 74.1,322.4 74.3,323.4 74.4,324.4 74.6,325.4 74.8,326.4 75.0,327.4 75.2,328.4 75.4,329.3 75.6,330.3 75.8,331.3 76.0,332.3 76.2,333.3 76.5,334.2 76.7,335.2 76.9,336.2 77.2,337.2 77.4,338.1 77.7,339.1 77.9,340.1 78.2,341.1 78.4,342.0 78.7,343.0 78.9,344.0 79.2,345.0 79.5,345.9 79.7,346.9 80.0,347.9 80.3,348.8 80.5,349.8 80.8,350.8 81.1,351.7 81.3,352.7 81.6,353.7 81.9,354.6 82.2,355.6 82.5,356.6 82.8,357.5 83.1,358.5 83.3,359.5 83.6,360.4 84.0,361.4 84.3,362.3 84.6,363.3 85.0,364.2 85.4,365.1 85.8,366.1 86.2,367.0 86.7,367.9 87.2,368.8 87.8,369.5 88.5,370.3 89.4,371.0 90.3,371.2 91.2,371.0 92.2,370.5 93.0,370.1 93.8,369.4 94.5,368.7 95.3,368.0 96.2,367.5 97.0,366.9 97.9,366.4 98.8,366.0 99.7,365.5 100.5,365.0 101.4,364.5 102.3,363.9 103.0,363.3 103.8,362.6 104.5,361.9 105.2,361.2 105.9,360.5 106.6,359.7 107.2,359.0 107.9,358.2 108.6,357.5 109.2,356.7 109.9,356.0 110.6,355.3 111.3,354.5 112.0,353.8 112.8,353.1 113.5,352.5 114.3,351.8 115.0,351.1 115.8,350.5 116.6,349.9 117.4,349.4 118.3,348.8 119.2,348.3 120.0,347.8 120.9,347.3 121.8,346.8 122.7,346.4 123.6,345.9 124.5,345.5 125.5,345.2 126.4,344.8 127.4,344.5 128.3,344.2 129.3,343.9 130.2,343.6 131.2,343.3 132.2,343.2 133.2,343.1 134.2,342.9 135.2,342.9 136.2,342.8 137.2,342.8 138.2,342.9 139.2,343.0 140.2,343.1 141.2,343.3 142.2,343.5 143.2,343.6 144.2,343.8 145.2,344.0 146.1,344.3 147.1,344.5 148.1,344.8 149.1,345.0 150.0,345.2 151.0,345.4 152.0,345.6 153.0,345.8 154.0,345.9 155.0,346.1 156.0,346.3 157.0,346.4 158.0,346.6 159.0,346.7 160.0,346.8 161.0,347.0 162.0,347.1 163.0,347.3 163.9,347.4 164.9,347.6 165.9,347.8 166.9,347.9 167.9,348.1 168.9,348.2 169.9,348.4 170.9,348.5 171.9,348.7 172.9,348.8 173.9,348.9 174.9,349.1 175.9,349.2 176.9,349.3 177.9,349.4 178.9,349.6 179.9,349.7 180.9,349.8 181.9,349.9 182.9,350.0 183.9,350.1 184.9,350.2 185.9,350.2 186.9,350.3 187.9,350.4 188.9,350.4 189.9,350.4 190.9,350.5 191.9,350.5 192.9,350.5 193.9,350.5 194.9,350.5 195.9,350.5 196.9,350.5 197.9,350.4 198.9,350.3 199.9,350.3 201.0,350.2 202.0,350.2 203.0,350.1 204.0,350.0 205.0,350.0 206.0,349.9 207.0,349.9 208.0,349.8 209.0,349.7 210.0,349.7 211.0,349.6 212.0,349.5 213.0,349.5 214.0,349.4 215.0,349.3 216.0,349.3 217.0,349.2 218.0,349.2 219.0,349.1 220.0,349.0 221.0,349.0 222.0,348.9 223.0,348.9 224.0,348.8 225.0,348.8 226.0,348.7 227.0,348.7 228.1,348.6 229.1,348.6 230.1,348.6 231.1,348.5 232.1,348.5 233.1,348.4 234.1,348.4 235.1,348.4 236.1,348.3 237.1,348.3 238.1,348.3 239.1,348.2 240.1,348.2 241.1,348.2 242.1,348.1 243.1,348.1 244.1,348.1 245.1,348.1 246.1,348.1 247.1,348.0 248.2,348.0 249.2,348.0 250.2,348.0 251.2,348.0 252.2,348.0 253.2,347.9 254.2,347.9 255.2,347.9 256.2,347.9 257.2,347.9" fill="none" stroke="#5c5cff" stroke-width="1.05" stroke-linejoin="round"/>

<text x="60.5" y="403.4" text-anchor="middle" class="t">3</text><text x="109.7" y="403.4" text-anchor="middle" class="t">3.5</text><text x="158.8" y="403.4" text-anchor="middle" class="t">4</text><text x="208.0" y="403.4" text-anchor="middle" class="t">4.5</text><text x="257.2" y="403.4" text-anchor="middle" class="t">5</text><text x="36" y="291.0" text-anchor="end" class="t">400</text><text x="36" y="310.9" text-anchor="end" class="t">200</text><text x="36" y="330.8" text-anchor="end" class="t">0</text><text x="36" y="350.7" text-anchor="end" class="t">-200</text><text x="36" y="370.6" text-anchor="end" class="t">-400</text><text x="36" y="390.5" text-anchor="end" class="t">-600</text>
<text transform="translate(15.3,323) rotate(-90)" text-anchor="middle" font-size="12.5" class="c">Mvar</text>
<text x="21.6" y="416" textLength="266" lengthAdjust="spacingAndGlyphs" xml:space="preserve" class="c cap">(e) reactive power of LCC and MMC at rectifier side</text>
<text x="102.2" y="333" textLength="90.5" lengthAdjust="spacingAndGlyphs" class="c cap">PCC active power</text>
<line x1="197.0" y1="332.0" x2="200.3" y2="340.3" stroke="#222" stroke-width="0.75"/><polygon points="202.7,346.4 198.0,341.1 202.5,339.4" fill="#000"/>
<text x="141.5" y="374.1" textLength="97" lengthAdjust="spacingAndGlyphs" class="c cap">MMC active power</text>
<line x1="207.3" y1="364.6" x2="213.2" y2="360.1" stroke="#222" stroke-width="0.75"/><polygon points="218.5,356.1 214.7,362.0 211.8,358.2" fill="#000"/>
</g>
<g><line x1="345.0" y1="287.5" x2="345.0" y2="387.0" stroke="#ebebeb"/><line x1="394.1" y1="287.5" x2="394.1" y2="387.0" stroke="#ebebeb"/><line x1="443.2" y1="287.5" x2="443.2" y2="387.0" stroke="#ebebeb"/><line x1="492.4" y1="287.5" x2="492.4" y2="387.0" stroke="#ebebeb"/><line x1="325.5" y1="320.7" x2="541.5" y2="320.7" stroke="#ebebeb"/><line x1="325.5" y1="353.8" x2="541.5" y2="353.8" stroke="#ebebeb"/><rect x="325.5" y="287.5" width="216.0" height="99.5" fill="none" stroke="#808080" stroke-width="1"/><line x1="345.0" y1="387.0" x2="345.0" y2="384.8" stroke="#808080"/><line x1="345.0" y1="287.5" x2="345.0" y2="289.7" stroke="#808080"/><line x1="394.1" y1="387.0" x2="394.1" y2="384.8" stroke="#808080"/><line x1="394.1" y1="287.5" x2="394.1" y2="289.7" stroke="#808080"/><line x1="443.2" y1="387.0" x2="443.2" y2="384.8" stroke="#808080"/><line x1="443.2" y1="287.5" x2="443.2" y2="289.7" stroke="#808080"/><line x1="492.4" y1="387.0" x2="492.4" y2="384.8" stroke="#808080"/><line x1="492.4" y1="287.5" x2="492.4" y2="289.7" stroke="#808080"/><line x1="325.5" y1="320.7" x2="327.7" y2="320.7" stroke="#808080"/><line x1="541.5" y1="320.7" x2="539.3" y2="320.7" stroke="#808080"/><line x1="325.5" y1="353.8" x2="327.7" y2="353.8" stroke="#808080"/><line x1="541.5" y1="353.8" x2="539.3" y2="353.8" stroke="#808080"/>
<polyline points="325.5,318.4 326.5,322.5 327.5,318.4 328.5,322.5 329.5,318.4 330.5,322.5 331.5,318.4 332.5,322.5 333.5,318.4 334.5,322.5 335.5,318.4 336.5,322.5 337.5,318.4 338.5,322.5 339.5,318.4 340.5,322.5 341.5,318.4 342.5,322.5 343.5,318.4 344.5,322.5 345.5,319.7 346.0,334.7 346.6,322.0 347.5,317.0 348.5,327.4 349.5,315.8 350.5,327.0 351.5,315.8 352.5,327.0 353.5,316.3 354.5,327.8 355.5,320.0 356.5,332.2 357.5,329.2 358.5,337.8 359.5,333.1 360.5,342.9 361.5,337.1 362.5,349.2 363.5,339.5 364.5,354.9 365.5,340.3 366.5,359.2" fill="none" stroke="#ff3838" stroke-width="0.8" stroke-linejoin="round"/>
<polygon points="365.0,340.1 365.5,340.3 366.0,340.3 366.5,340.3 367.0,340.3 367.5,340.3 368.0,340.3 368.5,340.3 369.0,340.3 369.5,340.3 370.0,340.3 370.5,340.3 371.0,340.3 371.5,340.3 372.0,340.2 372.5,340.2 373.0,340.1 373.5,340.0 374.0,340.0 374.5,339.9 375.0,339.8 375.5,339.7 376.0,339.6 376.5,339.5 377.0,339.3 377.5,339.2 378.0,339.0 378.5,338.9 379.0,338.7 379.5,338.5 380.0,338.3 380.5,338.1 381.0,337.9 381.5,337.7 382.0,337.4 382.5,337.1 383.0,336.7 383.5,336.3 384.0,335.9 384.5,335.4 385.0,334.9 385.5,334.4 386.0,333.9 386.5,333.3 387.0,332.8 387.5,332.2 388.0,331.7 388.5,331.1 389.0,330.6 389.5,330.1 390.0,329.6 390.5,329.1 391.0,328.6 391.5,328.0 392.0,327.5 392.5,326.9 393.0,326.3 393.5,325.8 394.0,325.4 394.5,325.0 395.0,324.7 395.5,324.5 396.0,324.3 396.5,324.1 397.0,323.9 397.5,323.8 398.0,323.6 398.5,323.5 399.0,323.4 399.5,323.3 400.0,323.2 400.5,323.1 401.0,323.0 401.5,322.9 402.0,322.8 402.5,322.7 403.0,322.6 403.5,322.6 404.0,322.5 404.5,322.4 405.0,322.4 405.5,322.3 406.0,322.3 406.5,322.2 407.0,322.2 407.5,322.1 408.0,322.1 408.5,322.0 409.0,321.9 409.5,321.9 410.0,321.8 410.5,321.8 411.0,321.7 411.5,321.6 412.0,321.6 412.5,321.5 413.0,321.4 413.5,321.4 414.0,321.3 414.5,321.2 415.0,321.1 415.5,321.1 416.0,321.0 416.5,320.9 417.0,320.9 417.5,320.8 418.0,320.7 418.5,320.6 419.0,320.6 419.5,320.5 420.0,320.4 420.5,320.3 421.0,320.3 421.5,320.2 422.0,320.1 422.5,320.0 423.0,319.9 423.5,319.9 424.0,319.8 424.5,319.7 425.0,319.6 425.5,319.5 426.0,319.4 426.5,319.3 427.0,319.2 427.5,319.1 428.0,319.0 428.5,318.9 429.0,318.8 429.5,318.7 430.0,318.6 430.5,318.5 431.0,318.4 431.5,318.3 432.0,318.1 432.5,318.0 433.0,317.9 433.5,317.8 434.0,317.7 434.5,317.6 435.0,317.4 435.5,317.3 436.0,317.2 436.5,317.1 437.0,317.0 437.5,316.9 438.0,316.8 438.5,316.7 439.0,316.6 439.5,316.4 440.0,316.3 440.5,316.2 441.0,316.2 441.5,316.1 442.0,316.0 442.5,315.9 443.0,315.8 443.5,315.7 444.0,315.6 444.5,315.6 445.0,315.5 445.5,315.4 446.0,315.3 446.5,315.3 447.0,315.2 447.5,315.1 448.0,315.0 448.5,315.0 449.0,314.9 449.5,314.8 450.0,314.7 450.5,314.7 451.0,314.6 451.5,314.5 452.0,314.5 452.5,314.4 453.0,314.3 453.5,314.3 454.0,314.2 454.5,314.1 455.0,314.1 455.5,314.0 456.0,314.0 456.5,313.9 457.0,313.8 457.5,313.8 458.0,313.7 458.5,313.7 459.0,313.6 459.5,313.5 460.0,313.5 460.5,313.4 461.0,313.4 461.5,313.3 462.0,313.2 462.5,313.2 463.0,313.1 463.5,313.1 464.0,313.0 464.5,313.0 465.0,312.9 465.5,312.9 466.0,312.8 466.5,312.8 467.0,312.7 467.5,312.7 468.0,312.6 468.5,312.5 469.0,312.5 469.5,312.4 470.0,312.4 470.5,312.3 471.0,312.3 471.5,312.2 472.0,312.2 472.5,312.1 473.0,312.1 473.5,312.0 474.0,312.0 474.5,311.9 475.0,311.9 475.5,311.9 476.0,311.8 476.5,311.8 477.0,311.7 477.5,311.7 478.0,311.6 478.5,311.6 479.0,311.5 479.5,311.5 480.0,311.4 480.5,311.4 481.0,311.4 481.5,311.3 482.0,311.3 482.5,311.2 483.0,311.2 483.5,311.1 484.0,311.1 484.5,311.1 485.0,311.0 485.5,311.0 486.0,310.9 486.5,310.9 487.0,310.9 487.5,310.8 488.0,310.8 488.5,310.7 489.0,310.7 489.5,310.7 490.0,310.6 490.5,310.6 491.0,310.6 491.5,310.5 492.0,310.5 492.5,310.5 493.0,310.4 493.5,310.4 494.0,310.4 494.5,310.3 495.0,310.3 495.5,310.3 496.0,310.2 496.5,310.2 497.0,310.2 497.5,310.1 498.0,310.1 498.5,310.1 499.0,310.1 499.5,310.0 500.0,310.0 500.5,310.0 501.0,309.9 501.5,309.9 502.0,309.9 502.5,309.9 503.0,309.8 503.5,309.8 504.0,309.8 504.5,309.7 505.0,309.7 505.5,309.7 506.0,309.7 506.5,309.6 507.0,309.6 507.5,309.6 508.0,309.6 508.5,309.5 509.0,309.5 509.5,309.5 510.0,309.5 510.5,309.4 511.0,309.4 511.5,309.4 512.0,309.4 512.5,309.3 513.0,309.3 513.5,309.3 514.0,309.3 514.5,309.3 515.0,309.2 515.5,309.2 516.0,309.2 516.5,309.2 517.0,309.2 517.5,309.1 518.0,309.1 518.5,309.1 519.0,309.1 519.5,309.1 520.0,309.0 520.5,309.0 521.0,309.0 521.5,309.0 522.0,309.0 522.5,309.0 523.0,308.9 523.5,308.9 524.0,308.9 524.5,308.9 525.0,308.9 525.5,308.8 526.0,308.8 526.5,308.8 527.0,308.8 527.5,308.8 528.0,308.8 528.5,308.7 529.0,308.7 529.5,308.7 530.0,308.7 530.5,308.7 531.0,308.7 531.5,308.7 532.0,308.6 532.5,308.6 533.0,308.6 533.5,308.6 534.0,308.6 534.5,308.6 535.0,308.6 535.5,308.5 536.0,308.5 536.5,308.5 537.0,308.5 537.5,308.5 538.0,308.5 538.5,308.5 539.0,308.5 539.5,308.4 540.0,308.4 540.5,308.4 541.0,308.4 541.5,308.4 541.5,331.3 541.0,331.3 540.5,331.3 540.0,331.3 539.5,331.3 539.0,331.3 538.5,331.3 538.0,331.3 537.5,331.4 537.0,331.4 536.5,331.4 536.0,331.4 535.5,331.4 535.0,331.4 534.5,331.4 534.0,331.4 533.5,331.4 533.0,331.4 532.5,331.4 532.0,331.4 531.5,331.5 531.0,331.5 530.5,331.5 530.0,331.5 529.5,331.5 529.0,331.5 528.5,331.5 528.0,331.5 527.5,331.5 527.0,331.5 526.5,331.6 526.0,331.6 525.5,331.6 525.0,331.6 524.5,331.6 524.0,331.6 523.5,331.6 523.0,331.6 522.5,331.6 522.0,331.7 521.5,331.7 521.0,331.7 520.5,331.7 520.0,331.7 519.5,331.7 519.0,331.7 518.5,331.7 518.0,331.8 517.5,331.8 517.0,331.8 516.5,331.8 516.0,331.8 515.5,331.8 515.0,331.8 514.5,331.8 514.0,331.9 513.5,331.9 513.0,331.9 512.5,331.9 512.0,331.9 511.5,331.9 511.0,331.9 510.5,331.9 510.0,332.0 509.5,332.0 509.0,332.0 508.5,332.0 508.0,332.0 507.5,332.0 507.0,332.0 506.5,332.1 506.0,332.1 505.5,332.1 505.0,332.1 504.5,332.1 504.0,332.1 503.5,332.2 503.0,332.2 502.5,332.2 502.0,332.2 501.5,332.2 501.0,332.2 500.5,332.3 500.0,332.3 499.5,332.3 499.0,332.3 498.5,332.3 498.0,332.4 497.5,332.4 497.0,332.4 496.5,332.4 496.0,332.4 495.5,332.5 495.0,332.5 494.5,332.5 494.0,332.5 493.5,332.5 493.0,332.6 492.5,332.6 492.0,332.6 491.5,332.6 491.0,332.6 490.5,332.7 490.0,332.7 489.5,332.7 489.0,332.7 488.5,332.8 488.0,332.8 487.5,332.8 487.0,332.8 486.5,332.9 486.0,332.9 485.5,332.9 485.0,333.0 484.5,333.0 484.0,333.0 483.5,333.0 483.0,333.1 482.5,333.1 482.0,333.1 481.5,333.2 481.0,333.2 480.5,333.2 480.0,333.3 479.5,333.3 479.0,333.3 478.5,333.4 478.0,333.4 477.5,333.4 477.0,333.5 476.5,333.5 476.0,333.5 475.5,333.6 475.0,333.6 474.5,333.6 474.0,333.7 473.5,333.7 473.0,333.7 472.5,333.8 472.0,333.8 471.5,333.8 471.0,333.9 470.5,333.9 470.0,334.0 469.5,334.0 469.0,334.0 468.5,334.1 468.0,334.1 467.5,334.1 467.0,334.2 466.5,334.2 466.0,334.3 465.5,334.3 465.0,334.3 464.5,334.4 464.0,334.4 463.5,334.4 463.0,334.5 462.5,334.5 462.0,334.6 461.5,334.6 461.0,334.6 460.5,334.7 460.0,334.7 459.5,334.8 459.0,334.8 458.5,334.9 458.0,334.9 457.5,334.9 457.0,335.0 456.5,335.0 456.0,335.1 455.5,335.1 455.0,335.2 454.5,335.2 454.0,335.3 453.5,335.3 453.0,335.3 452.5,335.4 452.0,335.4 451.5,335.5 451.0,335.5 450.5,335.6 450.0,335.6 449.5,335.7 449.0,335.7 448.5,335.8 448.0,335.8 447.5,335.9 447.0,336.0 446.5,336.0 446.0,336.1 445.5,336.1 445.0,336.2 444.5,336.2 444.0,336.3 443.5,336.3 443.0,336.4 442.5,336.5 442.0,336.5 441.5,336.6 441.0,336.7 440.5,336.7 440.0,336.8 439.5,336.9 439.0,336.9 438.5,337.0 438.0,337.1 437.5,337.2 437.0,337.3 436.5,337.3 436.0,337.4 435.5,337.5 435.0,337.6 434.5,337.7 434.0,337.7 433.5,337.8 433.0,337.9 432.5,338.0 432.0,338.1 431.5,338.2 431.0,338.3 430.5,338.3 430.0,338.4 429.5,338.5 429.0,338.6 428.5,338.7 428.0,338.7 427.5,338.8 427.0,338.9 426.5,339.0 426.0,339.1 425.5,339.1 425.0,339.2 424.5,339.3 424.0,339.3 423.5,339.4 423.0,339.5 422.5,339.5 422.0,339.6 421.5,339.7 421.0,339.7 420.5,339.8 420.0,339.8 419.5,339.9 419.0,340.0 418.5,340.0 418.0,340.1 417.5,340.1 417.0,340.2 416.5,340.3 416.0,340.3 415.5,340.4 415.0,340.5 414.5,340.5 414.0,340.6 413.5,340.6 413.0,340.7 412.5,340.8 412.0,340.8 411.5,340.9 411.0,341.0 410.5,341.1 410.0,341.1 409.5,341.2 409.0,341.3 408.5,341.4 408.0,341.4 407.5,341.5 407.0,341.6 406.5,341.7 406.0,341.7 405.5,341.8 405.0,341.9 404.5,342.0 404.0,342.1 403.5,342.2 403.0,342.3 402.5,342.4 402.0,342.5 401.5,342.6 401.0,342.7 400.5,342.8 400.0,343.0 399.5,343.1 399.0,343.2 398.5,343.4 398.0,343.5 397.5,343.7 397.0,343.8 396.5,344.0 396.0,344.2 395.5,344.5 395.0,344.7 394.5,345.0 394.0,345.4 393.5,345.8 393.0,346.3 392.5,346.8 392.0,347.4 391.5,347.9 391.0,348.5 390.5,349.1 390.0,349.6 389.5,350.2 389.0,350.8 388.5,351.5 388.0,352.2 387.5,352.9 387.0,353.6 386.5,354.3 386.0,355.1 385.5,355.8 385.0,356.5 384.5,357.2 384.0,357.9 383.5,358.5 383.0,359.1 382.5,359.6 382.0,360.1 381.5,360.5 381.0,360.9 380.5,361.3 380.0,361.7 379.5,362.0 379.0,362.4 378.5,362.8 378.0,363.1 377.5,363.4 377.0,363.7 376.5,364.0 376.0,364.2 375.5,364.4 375.0,364.5 374.5,364.6 374.0,364.7 373.5,364.7 373.0,364.7 372.5,364.6 372.0,364.6 371.5,364.5 371.0,364.4 370.5,364.4 370.0,364.1 369.5,363.7 369.0,363.2 368.5,362.5 368.0,361.8 367.5,360.9 367.0,360.1 366.5,359.2 366.0,358.3 365.5,357.3 365.0,356.2" fill="#ffacac"/>
<path d="M365.5,339.9V357.7M367.5,339.9V361.3M369.5,339.9V364.1M371.5,339.9V364.9M373.5,339.6V365.1M375.5,339.3V364.8M377.5,338.8V363.8M379.5,338.1V362.4M381.5,337.3V360.9M383.5,335.9V358.9M385.5,334.0V356.2M387.5,331.8V353.3M389.5,329.7V350.6M391.5,327.6V348.3M393.5,325.4V346.2M395.5,324.1V344.9M397.5,323.4V344.1M399.5,322.9V343.5M401.5,322.5V343.0M403.5,322.2V342.6M405.5,321.9V342.2M407.5,321.7V341.9M409.5,321.5V341.6M411.5,321.2V341.3M413.5,321.0V341.0M415.5,320.7V340.8M417.5,320.4V340.5M419.5,320.1V340.3M421.5,319.8V340.1M423.5,319.5V339.8M425.5,319.1V339.5M427.5,318.7V339.2M429.5,318.3V338.9M431.5,317.9V338.6M433.5,317.4V338.2M435.5,316.9V337.9M437.5,316.5V337.6M439.5,316.0V337.3M441.5,315.7V337.0M443.5,315.3V336.7M445.5,315.0V336.5M447.5,314.7V336.3M449.5,314.4V336.1M451.5,314.1V335.9M453.5,313.9V335.7M455.5,313.6V335.5M457.5,313.4V335.3M459.5,313.1V335.2M461.5,312.9V335.0M463.5,312.7V334.8M465.5,312.5V334.7M467.5,312.3V334.5M469.5,312.0V334.4M471.5,311.8V334.2M473.5,311.6V334.1M475.5,311.5V334.0M477.5,311.3V333.8M479.5,311.1V333.7M481.5,310.9V333.6M483.5,310.7V333.4M485.5,310.6V333.3M487.5,310.4V333.2M489.5,310.3V333.1M491.5,310.1V333.0M493.5,310.0V332.9M495.5,309.9V332.9M497.5,309.7V332.8M499.5,309.6V332.7M501.5,309.5V332.6M503.5,309.4V332.6M505.5,309.3V332.5M507.5,309.2V332.4M509.5,309.1V332.4M511.5,309.0V332.3M513.5,308.9V332.3M515.5,308.8V332.2M517.5,308.7V332.2M519.5,308.7V332.1M521.5,308.6V332.1M523.5,308.5V332.0M525.5,308.4V332.0M527.5,308.4V331.9M529.5,308.3V331.9M531.5,308.3V331.9M533.5,308.2V331.8M535.5,308.1V331.8M537.5,308.1V331.8M539.5,308.0V331.7" fill="none" stroke="#ff5858" stroke-width="1"/>

<text x="345.0" y="403.4" text-anchor="middle" class="t">3</text><text x="394.1" y="403.4" text-anchor="middle" class="t">3.5</text><text x="443.2" y="403.4" text-anchor="middle" class="t">4</text><text x="492.4" y="403.4" text-anchor="middle" class="t">4.5</text><text x="541.5" y="403.4" text-anchor="middle" class="t">5</text><text x="319.5" y="291.0" text-anchor="end" class="t">450</text><text x="319.5" y="324.2" text-anchor="end" class="t">400</text><text x="319.5" y="357.3" text-anchor="end" class="t">350</text><text x="319.5" y="390.5" text-anchor="end" class="t">300</text>
<text transform="translate(298,340.3) rotate(-90)" text-anchor="middle" font-size="12.5" class="c">kV</text>
<text x="368" y="418.8" textLength="137.6" lengthAdjust="spacingAndGlyphs" xml:space="preserve" font-size="12.5" fill="#262626" stroke="#262626" stroke-width="0.1">(f)   MMC cell voltage sum</text>
</g>
</svg>
</body></html>
